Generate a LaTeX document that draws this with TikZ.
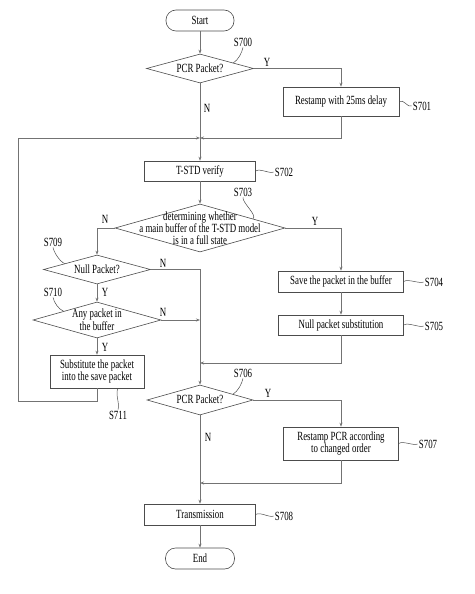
\documentclass[tikz,border=0pt]{standalone}
\usepackage{fontspec}
\setmainfont{Liberation Serif}[FakeStretch=0.71]
\usetikzlibrary{shapes.geometric,arrows.meta,calc}
\newcommand{\ztext}[1]{\smash{\raisebox{-4.3pt}{\makebox[0pt]{\begin{tabular}{@{}c@{}}#1\end{tabular}}}}}
\begin{document}
\begin{tikzpicture}[x=1pt,y=-1pt,
  every node/.style={font=\fontsize{12.5}{12}\selectfont, text=black},
  proc/.style={draw=black!70, line width=0.6pt, rectangle, inner sep=0pt, align=center},
  term/.style={draw=black!70, line width=0.6pt, rectangle, rounded corners=10pt, inner sep=0pt},
  dia/.style={draw=black!70, line width=0.6pt, diamond, inner sep=0pt},
  arr/.style={draw=black!55, line width=0.6pt, -{Stealth[length=4pt,width=3pt]}},
  lead/.style={draw=black!70, line width=0.5pt},
  lbl/.style={inner sep=1pt}
]
\useasboundingbox (0,0) rectangle (474,594);

% nodes
\node[term, minimum width=68pt, minimum height=21pt] (start) at (200,20.5) {Start};
\node[dia, minimum width=107pt, minimum height=29pt] (d700) at (200,68.5) {\ztext{PCR Packet?}};
\node[proc, minimum width=116pt, minimum height=29pt] (b701) at (341,101.5) {Restamp with 25ms delay};
\node[proc, minimum width=111pt, minimum height=20pt] (b702) at (200,171) {T-STD verify};
\node[dia, minimum width=170pt, minimum height=48pt, font=\fontsize{12.5}{10.5}\selectfont] (d703) at (200,228) {\ztext{determining whether\\a main buffer of the T-STD model\\is in a full state}};
\node[dia, minimum width=107pt, minimum height=29pt] (d709) at (97,269.5) {\ztext{Null Packet?}};
\node[dia, minimum width=128pt, minimum height=36pt] (d710) at (97,320) {\ztext{Any packet in\\the buffer}};
\node[proc, minimum width=94pt, minimum height=33pt] (b711) at (97,371.5) {Substitute the packet\\into the save packet};
\node[proc, minimum width=125pt, minimum height=21pt] (b704) at (341,281.5) {Save the packet in the buffer};
\node[proc, minimum width=125pt, minimum height=20pt] (b705) at (341,325) {Null packet substitution};
\node[dia, minimum width=106pt, minimum height=30pt] (d706) at (200,400) {\ztext{PCR Packet?}};
\node[proc, minimum width=115pt, minimum height=33pt] (b707) at (341,443.5) {Restamp PCR according\\to changed order};
\node[proc, minimum width=111pt, minimum height=21pt] (b708) at (200,514.5) {Transmission};
\node[term, minimum width=69pt, minimum height=21pt] (endn) at (200,558.5) {End};

% junction coordinates
\coordinate (j1) at (200,138);
\coordinate (lb) at (18,401);
\coordinate (lt) at (18,138);
\coordinate (j2) at (200,320);
\coordinate (j3) at (200,363);
\coordinate (j4) at (200,483);

% connectors
\draw[arr] (start) -- (d700);
\draw[arr] (d700.east) -| (b701.north);
\draw[arr] (d700.south) -- (b702.north);
\draw[arr] (b701.south) |- (j1);
\draw[arr] (b711.south) |- (lb) -- (lt) -- (j1);
\draw[arr] (b702) -- (d703);
\draw[arr] (d703.west) -| (d709.north);
\draw[arr] (d703.east) -| (b704.north);
\draw[arr] (d709.south) -- (d710.north);
\draw[arr] (d710.south) -- (b711.north);
\draw[arr] (d709.east) -| (d706.north);
\draw[arr] (d710.east) -- (j2);
\draw[arr] (b704) -- (b705);
\draw[arr] (b705.south) |- (j3);
\draw[arr] (d706.east) -| (b707.north);
\draw[arr] (d706.south) -- (b708.north);
\draw[arr] (b707.south) |- (j4);
\draw[arr] (b708) -- (endn);

% Y / N labels
\node[lbl] (y700) at (267,62) {Y};
\node[lbl] (n700) at (207,108) {N};
\node[lbl] (n703) at (105,219) {N};
\node[lbl] (y703) at (315,221) {Y};
\node[lbl] (n709) at (163,263) {N};
\node[lbl] (y709) at (105,292) {Y};
\node[lbl] (n710) at (163,312) {N};
\node[lbl] (y710) at (105,347) {Y};
\node[lbl] (y706) at (268,393) {Y};
\node[lbl] (n706) at (208,437) {N};

% step labels
\node[lbl] (s700) at (243,42) {S700};
\node[lbl] (s701) at (422,106) {S701};
\node[lbl] (s702) at (284,172) {S702};
\node[lbl] (s703) at (243,192) {S703};
\node[lbl] (s709) at (53,242) {S709};
\node[lbl] (s710) at (53,292) {S710};
\node[lbl] (s711) at (118,415) {S711};
\node[lbl] (s704) at (434,282) {S704};
\node[lbl] (s705) at (434,326) {S705};
\node[lbl] (s706) at (243,373) {S706};
\node[lbl] (s707) at (428,444) {S707};
\node[lbl] (s708) at (284,516) {S708};

% leaders
\draw[lead] ($(d700.east)!0.38!(d700.north)$) .. controls +(5,-3) and +(-1,5) .. (s700.south);
\draw[lead] ($(d703.east)!0.38!(d703.north)$) .. controls +(5,-3) and +(-1,5) .. (s703.south);
\draw[lead] ($(d706.east)!0.38!(d706.north)$) .. controls +(5,-3) and +(-1,5) .. (s706.south);
\draw[lead] ($(d709.west)!0.4!(d709.north)$) .. controls +(-5,-2) and +(1,5) .. (s709.south);
\draw[lead] ($(d710.west)!0.48!(d710.north)$) .. controls +(-5,-2) and +(1,5) .. (s710.south);
\draw[lead] (b711.south -| s711) .. controls +(-3,6) and +(2,-6) .. (s711.north);
\draw[lead] (b701.east) .. controls +(4,-3) and +(-4,2) .. (s701.west);
\draw[lead] (b702.east) .. controls +(4,-3) and +(-4,2) .. (s702.west);
\draw[lead] (b704.east) .. controls +(4,-3) and +(-4,2) .. (s704.west);
\draw[lead] (b705.east) .. controls +(4,-3) and +(-4,2) .. (s705.west);
\draw[lead] (b707.east) .. controls +(4,-3) and +(-4,2) .. (s707.west);
\draw[lead] (b708.east) .. controls +(4,-3) and +(-4,2) .. (s708.west);
\end{tikzpicture}
\end{document}
